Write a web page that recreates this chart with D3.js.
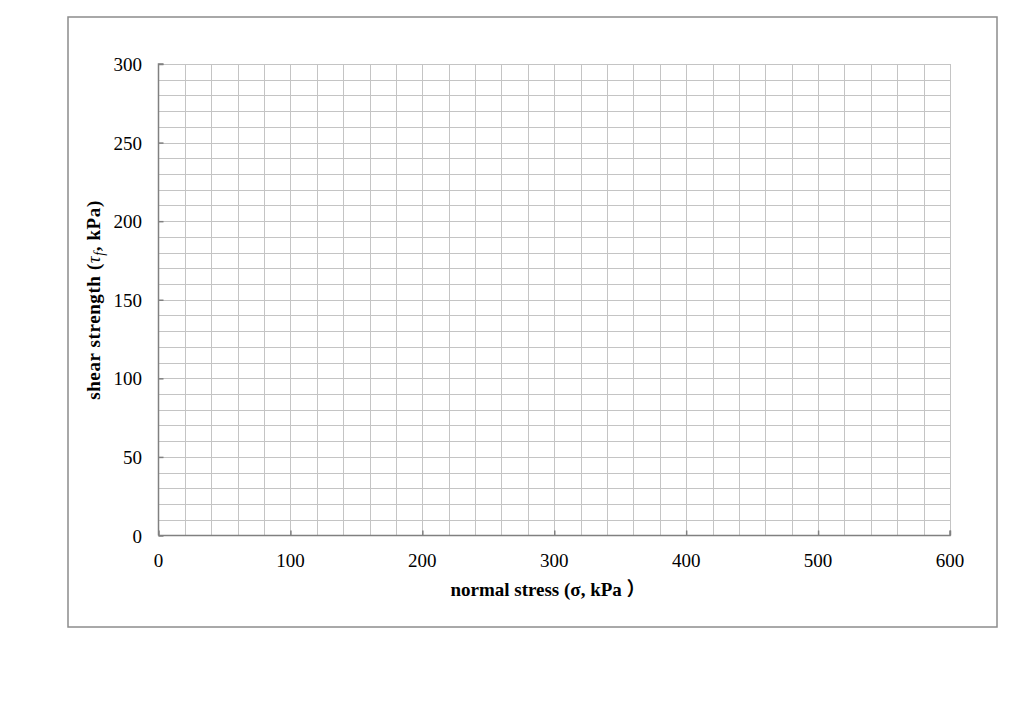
<!DOCTYPE html>
<html>
<head>
<meta charset="utf-8">
<script src="https://cdn.jsdelivr.net/npm/d3@7"></script>
<style>
  body { margin: 0; background: #fff; }
  svg text { font-family: "Liberation Serif", "Times New Roman", serif; fill: #000; }
</style>
</head>
<body>
<svg id="chart" width="1012" height="707"></svg>
<script>
// axis domains and ticks
const xDomain = [0, 600];
const yDomain = [0, 300];
const xTicks = [0, 100, 200, 300, 400, 500, 600];
const yTicks = [0, 50, 100, 150, 200, 250, 300];
const xGridStep = 20;
const yGridStep = 10;

const svg = d3.select('#chart');

// outer frame
svg.append('rect')
    .attr('x', 68).attr('y', 17)
    .attr('width', 929).attr('height', 610)
    .attr('fill', '#fff')
    .attr('stroke', '#8c8c8c')
    .attr('stroke-width', 1.5);

const plotLeft = 158.5, plotRight = 950, plotTop = 64, plotBottom = 535.5;

const x = d3.scaleLinear().domain(xDomain).range([plotLeft, plotRight]);
const y = d3.scaleLinear().domain(yDomain).range([plotBottom, plotTop]);

const xGrid = d3.range(xDomain[0] + xGridStep, xDomain[1] + 1, xGridStep);
const yGrid = d3.range(yDomain[0] + yGridStep, yDomain[1] + 1, yGridStep);

const grid = svg.append('g').attr('class', 'grid');
grid.selectAll('line.v')
    .data(xGrid)
    .join('line')
    .attr('class', 'v')
    .attr('x1', d => Math.round(x(d)) + 0.5).attr('x2', d => Math.round(x(d)) + 0.5)
    .attr('y1', plotTop).attr('y2', plotBottom)
    .attr('stroke', '#c4c4c4')
    .attr('stroke-width', 1);

grid.selectAll('line.h')
    .data(yGrid)
    .join('line')
    .attr('class', 'h')
    .attr('x1', plotLeft).attr('x2', plotRight)
    .attr('y1', d => Math.round(y(d)) + 0.5).attr('y2', d => Math.round(y(d)) + 0.5)
    .attr('stroke', '#c4c4c4')
    .attr('stroke-width', 1);

// axes: ticks pointing inward, labels placed separately
const xAxis = d3.axisTop(x).tickValues(xTicks).tickSize(5).tickFormat('');
const yAxis = d3.axisRight(y).tickValues(yTicks).tickSize(5).tickFormat('');

const gx = svg.append('g').attr('transform', `translate(0,${plotBottom})`).call(xAxis);
const gy = svg.append('g').attr('transform', `translate(${plotLeft},0)`).call(yAxis);
[gx, gy].forEach(g => {
    g.select('.domain').attr('stroke', '#808080').attr('stroke-width', 1.5);
    g.selectAll('.tick line').attr('stroke', '#808080').attr('stroke-width', 1.5);
});
gx.select('.domain').attr('d', `M${plotLeft},0H${plotRight}V-5`);
gy.select('.domain').attr('d', `M5,${plotTop}H0V${plotBottom}`);

svg.append('g').selectAll('text')
    .data(xTicks)
    .join('text')
    .attr('x', d => x(d))
    .attr('y', 567)
    .attr('text-anchor', 'middle')
    .attr('font-size', 19)
    .text(d => d);

svg.append('g').selectAll('text')
    .data(yTicks)
    .join('text')
    .attr('x', 142)
    .attr('y', d => y(d) + 7)
    .attr('text-anchor', 'end')
    .attr('font-size', 19)
    .text(d => d);

// axis titles
const xTitle = svg.append('text')
    .attr('x', 548)
    .attr('y', 596)
    .attr('text-anchor', 'middle')
    .attr('font-size', 19)
    .attr('font-weight', 'bold');
xTitle.append('tspan').text('normal stress (σ, kPa ');
xTitle.append('tspan').style('font-family', '"Noto Sans CJK SC", sans-serif')
    .text('）');

const yTitle = svg.append('text')
    .attr('transform', 'translate(100,300) rotate(-90)')
    .attr('text-anchor', 'middle')
    .attr('font-size', 19)
    .attr('font-weight', 'bold')
    .attr('letter-spacing', 0.6);
yTitle.append('tspan').text('shear strength (');
yTitle.append('tspan').attr('font-style', 'italic').attr('font-weight', 'normal').text('τ');
yTitle.append('tspan').attr('font-style', 'italic').attr('font-weight', 'normal')
    .attr('font-size', 14).attr('dy', 4).text('f');
yTitle.append('tspan').attr('dy', -4).text(', kPa)');
</script>
</body>
</html>
